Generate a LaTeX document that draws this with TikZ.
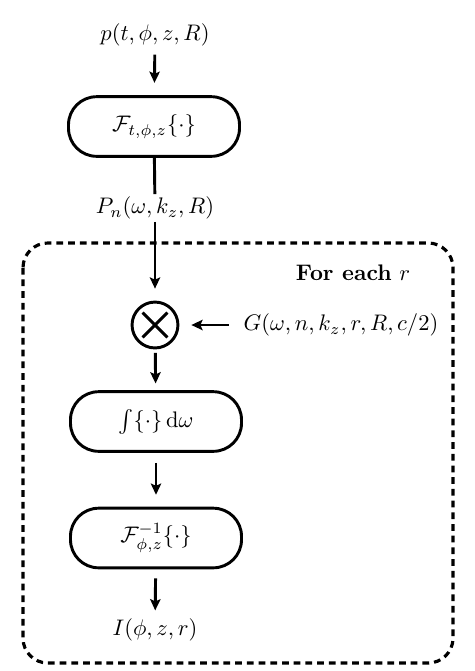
\documentclass[tikz,border=0pt]{standalone}
\usepackage{amsmath}
\usetikzlibrary{arrows.meta,calc}
\begin{document}
\begin{tikzpicture}[x=0.4444pt,y=-0.4444pt,
  stagebox/.style={draw,line width=1.3pt,rounded corners=12.5pt,minimum width=76pt,minimum height=26.5pt,inner sep=2pt},
  lbl/.style={inner sep=1pt},
  flow/.style={line width=1.3pt,-{Stealth[length=5pt,width=4.6pt,inset=1pt]}},
  plain/.style={line width=1.3pt},
  multnode/.style={draw,circle,line width=1.3pt,minimum size=20.4pt,inner sep=0pt},
  loopbox/.style={draw,line width=1.4pt,dash pattern=on 3pt off 2.2pt,rounded corners=11pt}]
\useasboundingbox (0,0) rectangle (474,671);
% dashed loop region
\draw[loopbox] (23,243) rectangle (453,663);
\node[lbl] (p) at (155,35) {$p(t,\phi,z,R)$};
\node[stagebox] (f1) at (154,126.5) {$\mathcal{F}_{t,\phi,z}\{\cdot\}$};
\node[lbl] (pn) at (155,208) {$P_n(\omega,k_z,R)$};
\node[lbl] (each) at (353,273) {\textbf{For each} $r$};
\node[multnode] (m) at (155,325) {};
\draw[line width=1.3pt] ($(m.center)!0.72!(m.north west)$) -- ($(m.center)!0.72!(m.south east)$);
\draw[line width=1.3pt] ($(m.center)!0.72!(m.north east)$) -- ($(m.center)!0.72!(m.south west)$);
\node[lbl] (g) at (341,325) {$G(\omega,n,k_z,r,R,c/2)$};
\node[stagebox] (f2) at (156,421.5) {$\int\{\cdot\}\,\mathrm{d}\omega$};
\node[stagebox] (f3) at (156,538) {$\mathcal{F}^{-1}_{\phi,z}\{\cdot\}$};
\node[lbl] (out) at (155,630) {$I(\phi,z,r)$};
% connectors
\draw[flow,shorten <=2.5pt,shorten >=5.5pt] (p) -- (f1);
\draw[plain] (f1) -- (pn);
\draw[flow,shorten >=5.3pt] (pn) -- (m);
\draw[flow,shorten <=5.5pt,shorten >=5.3pt] (g) -- (m);
\draw[flow,shorten <=1.5pt,shorten >=3pt] (m) -- (f2);
\draw[flow,shorten <=4.5pt,shorten >=5.3pt] (f2) -- (f3);
\draw[flow,shorten <=4pt,shorten >=2.5pt] (f3) -- (out);
\end{tikzpicture}
\end{document}
